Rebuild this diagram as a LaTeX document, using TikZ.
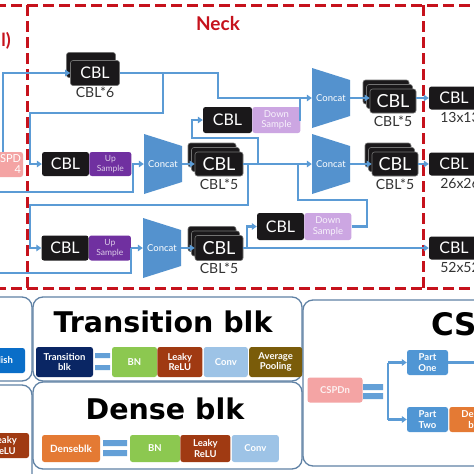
\documentclass[tikz,border=0pt]{standalone}
\usepackage{fontspec}
\setmainfont{Lato}
\newfontfamily\titlefont{DejaVu Sans}
\usetikzlibrary{arrows.meta,shadows,positioning}
\definecolor{neckred}{RGB}{198,18,28}
\definecolor{lnblue}{RGB}{91,155,213}
\definecolor{catblue}{RGB}{84,146,206}
\definecolor{cblk}{RGB}{26,24,26}
\definecolor{uppurple}{RGB}{112,48,160}
\definecolor{dnlilac}{RGB}{204,166,226}
\definecolor{cspink}{RGB}{244,164,164}
\definecolor{frameblue}{RGB}{96,130,165}
\definecolor{navy}{RGB}{10,38,100}
\definecolor{bngreen}{RGB}{140,200,80}
\definecolor{relubrown}{RGB}{160,58,18}
\definecolor{convblue}{RGB}{157,195,230}
\definecolor{poololive}{RGB}{122,92,10}
\definecolor{denseorange}{RGB}{228,122,52}
\definecolor{mishblue}{RGB}{10,110,200}
\definecolor{partblue}{RGB}{80,150,212}
\definecolor{eqblue}{RGB}{100,160,215}
\begin{document}
\begin{tikzpicture}[x=1pt,y=-1pt,
  link/.style={draw=lnblue,line width=2.2pt},
  arr/.style={link,-{Triangle[length=5pt,width=6.5pt]}},
  cbl/.style={fill=cblk,text=white,rounded corners=2.5pt,minimum width=47pt,minimum height=25pt,inner sep=0pt,font=\fontsize{16}{16}\selectfont},
  stack/.style={cbl,draw=black!55,line width=0.6pt,double copy shadow={shadow xshift=-3.5pt,shadow yshift=4.5pt},font=\fontsize{18}{18}\selectfont},
  stacksix/.style={cbl,draw=black!55,line width=0.6pt,copy shadow={shadow xshift=-4pt,shadow yshift=8pt}},
  sample/.style={rounded corners=2.5pt,minimum height=25pt,minimum width=42pt,inner sep=0pt,align=center,font=\fontsize{8.5}{9.5}\selectfont},
  concat/.style={fill=white,minimum width=38pt,minimum height=60pt,inner sep=0pt,text=white,font=\fontsize{9.5}{9.5}\selectfont,
    path picture={\fill[catblue] (path picture bounding box.north west) -- ([yshift=-12pt]path picture bounding box.north east) -- ([yshift=12pt]path picture bounding box.south east) -- (path picture bounding box.south west) -- cycle;}},
  lbl/.style={inner sep=1pt,text=black!80,font=\fontsize{14}{14}\selectfont},
  dashline/.style={draw=neckred,line width=3pt,dash pattern=on 11pt off 5pt},
  frame/.style={draw=frameblue,line width=1.3pt,rounded corners=10pt},
  tile/.style={rounded corners=2.5pt,text=white,inner sep=0pt,align=center,minimum height=30pt,font=\bfseries\fontsize{9.5}{10.5}\selectfont},
  title/.style={inner sep=0pt,font=\titlefont\bfseries\fontsize{28.5}{28.5}\selectfont}
]
\fill[white] (0,0) rectangle (474,474);
\useasboundingbox (0,0) rectangle (474,474);
\clip (0,0) rectangle (474,474);

\draw[dashline] (-5,5) -- (480,5);
\draw[dashline] (-5,288) -- (480,288);
\draw[dashline] (27,5) -- (27,288);
\draw[dashline] (423,5) -- (423,288);
\node[text=neckred,font=\bfseries\fontsize{19}{19}\selectfont] (neck) at (218,24) {Neck};
\node[text=neckred,font=\bfseries\fontsize{18}{18}\selectfont,anchor=east,inner sep=0pt] (bbtag) at (11,41) {l)};

\node[cbl,fill=cspink,font=\fontsize{11}{11}\selectfont,text width=44pt,inner xsep=2pt,align=right] (cspd) at (-1,164.5) {CSPD\\4};

\node[stacksix,minimum width=49pt] (cbl6) at (95,73) {CBL};
\node[lbl,below=0pt of cbl6] (lb6) {CBL*6};

\node[cbl,minimum height=24pt] (cblu1) at (65.5,164) {CBL};
\node[sample,fill=uppurple,text=white!75!uppurple,minimum height=24pt,right=0pt of cblu1] (up1) {Up\\Sample};
\node[concat] (cat1) at (163,164) {Concat};
\node[stack,minimum width=48pt,minimum height=24pt] (stk1) at (219,164) {CBL};
\node[lbl,below=1pt of stk1] (lb1) {CBL*5};

\node[cbl,minimum width=49pt,minimum height=26pt] (dcbl1) at (227.5,120) {CBL};
\node[sample,fill=dnlilac,text=white!85!dnlilac,minimum width=48pt,minimum height=26pt,font=\fontsize{9.5}{10.5}\selectfont,right=0pt of dcbl1] (ds1) {Down\\Sample};

\node[cbl,minimum height=25pt] (cblu2) at (65,248) {CBL};
\node[sample,fill=uppurple,text=white!75!uppurple,right=0pt of cblu2] (up2) {Up\\Sample};
\node[concat] (cat2) at (162,248) {Concat};
\node[stack,minimum width=48pt,minimum height=25pt] (stk2) at (219,248) {CBL};
\node[lbl,below=1pt of stk2] (lb2) {CBL*5};

\node[cbl,minimum width=47pt,minimum height=27pt] (dcbl2) at (280.5,226.5) {CBL};
\node[sample,fill=dnlilac,text=white!85!dnlilac,minimum width=47pt,minimum height=27pt,font=\fontsize{9.5}{10.5}\selectfont,right=0pt of dcbl2] (ds2) {Down\\Sample};

\node[concat] (cat3) at (331,98) {Concat};
\node[concat] (cat4) at (331,164) {Concat};
\node[stack,minimum width=46pt,minimum height=24pt] (stk3) at (393,101) {CBL};
\node[lbl,below=1pt of stk3] (lb3) {CBL*5};
\node[stack,minimum width=46pt,minimum height=24pt] (stk4) at (395,164) {CBL};
\node[lbl,below=1pt of stk4] (lb4) {CBL*5};

\node[cbl,minimum width=50pt,minimum height=23pt] (head1) at (454,98) {CBL};
\node[lbl,below=1pt of head1,xshift=6pt] (lh1) {13x13};
\node[cbl,minimum width=50pt,minimum height=23pt] (head2) at (454,164) {CBL};
\node[lbl,below=1pt of head2,xshift=6pt] (lh2) {26x26};
\node[cbl,minimum width=50pt,minimum height=23pt] (head3) at (454,248) {CBL};
\node[lbl,below=1pt of head3,xshift=6pt] (lh3) {52x52};

\coordinate (b1) at (3,73);
\coordinate (j1) at (218,98);
\coordinate (j2) at (163,113);
\coordinate (j3) at (30,113);
\coordinate (in26) at (-5,192);
\coordinate (f26) at (133,192);
\coordinate (j4) at (258,138);
\coordinate (j5) at (192,138);
\coordinate (j6) at (300,98);
\coordinate (j7) at (248,205);
\coordinate (j8) at (30,205);
\coordinate (in52) at (-5,273);
\coordinate (f52) at (131,273);
\coordinate (j9) at (247,0);
\coordinate (j10) at (367,200);
\coordinate (j11) at (298,200);

\draw[arr] (b1 |- cspd.north) -- (b1) -- (cbl6.west);
\draw[arr] (cbl6.east) -| (j1) -- (cat3.west);
\draw[arr] (j2 |- cbl6.east) -- (j2) -- (j3) |- (cblu1.west);
\draw[arr] (up1.east) -- (cat1.west);
\draw[link] (in26) -- (f26) -- (f26 |- cat1);
\draw[arr] (cat1.east) -- (stk1.west);
\draw[arr] (stk1.east) -- (cat4.west);
\draw[arr] (j4 |- stk1.east) -- (j4) -- (j5) |- (dcbl1.west);
\draw[link] (ds1.east) -| (j6);
\draw[arr] (j7 |- stk1.east) -- (j7) -- (j8) |- (cblu2.west);
\draw[arr] (up2.east) -- (cat2.west);
\draw[link] (in52) -- (f52) -- (f52 |- cat2);
\draw[arr] (cat2.east) -- (stk2.west);
\draw[arr] (stk2.east) -- (head3.west);
\draw[arr] (j9 |- stk2.east) |- (dcbl2.west);
\draw[link] (ds2.east) -| (j10) -- (j11) -- (j11 |- cat4.west);
\draw[arr] (cat3.east) -- (cat3.east -| stk3.west);
\draw[arr] (stk3.east |- head1.west) -- (head1.west);
\draw[arr] (cat4.east) -- (stk4.west);
\draw[arr] (stk4.east) -- (head2.west);

\draw[frame] (-20,297) rectangle (32,381);
\draw[frame] (33,297) rectangle (302,381);
\draw[frame] (-20,385) rectangle (32,490);
\draw[frame] (33,382) rectangle (302,469);
\draw[frame] (303,300) rectangle (490,466);

\node[tile,fill=mishblue,minimum width=45pt,minimum height=25pt] (mish) at (2.5,360.5) {Mish};
\node[tile,fill=relubrown,minimum width=49pt,minimum height=25pt] (lr0) at (4.5,445.5) {Leaky\\ReLU};

\node[title] (ttr) at (163,322) {Transition blk};
\node[tile,fill=navy,minimum width=57pt] (tb) at (64.5,362) {Transition\\blk};
\fill[eqblue] (95,353) rectangle (110,358) (95,365) rectangle (110,370);
\node[tile,fill=bngreen,minimum width=45pt] (bn1) at (134.5,362) {BN};
\node[tile,fill=relubrown,minimum width=45pt,right=0pt of bn1] (lr1) {Leaky\\ReLU};
\node[tile,fill=convblue,minimum width=44pt,right=1pt of lr1] (cv1) {Conv};
\node[tile,fill=poololive,minimum width=53pt,right=1pt of cv1] (ap1) {Average\\Pooling};

\node[title] (tdn) at (165,409) {Dense blk};
\node[tile,fill=denseorange,minimum width=58pt,minimum height=27pt,font=\bfseries\fontsize{10}{11}\selectfont] (db) at (71,448.5) {Denseblk};
\fill[eqblue] (103,440) rectangle (127,446) (103,450) rectangle (127,456);
\node[tile,fill=bngreen,minimum width=50pt,minimum height=27pt] (bn2) at (155,448.5) {BN};
\node[tile,fill=relubrown,minimum width=50pt,minimum height=27pt,right=0pt of bn2] (lr2) {Leaky\\ReLU};
\node[tile,fill=convblue,minimum width=47pt,minimum height=27pt,right=1pt of lr2] (cv2) {Conv};

\node[title,font=\titlefont\bfseries\fontsize{31}{31}\selectfont,anchor=west] (tcs) at (431,324) {CSPDn};
\node[tile,fill=cspink,text=white!85!cspink,minimum width=55pt,minimum height=25pt] (cspdn) at (335,390) {CSPDn};
\fill[eqblue] (363,384) rectangle (383,390) (363,393) rectangle (383,399);
\node[tile,fill=partblue,minimum width=41pt,minimum height=25pt] (p1) at (427.5,362.5) {Part\\One};
\node[tile,fill=partblue,minimum width=41pt,minimum height=25pt] (p2) at (427.5,419.5) {Part\\Two};
\node[tile,fill=denseorange,minimum width=51pt,minimum height=25pt,right=1pt of p2] (db2) {Dense\\blk};
\coordinate (sp) at (388,0);
\coordinate (pout) at (480,0);
\draw[link] (sp |- p1) -- (sp |- p2);
\draw[arr] (sp |- p1) -- (p1.west);
\draw[arr] (sp |- p2) -- (p2.west);
\draw[link] (p1.east) -- (pout |- p1);
\end{tikzpicture}
\end{document}
